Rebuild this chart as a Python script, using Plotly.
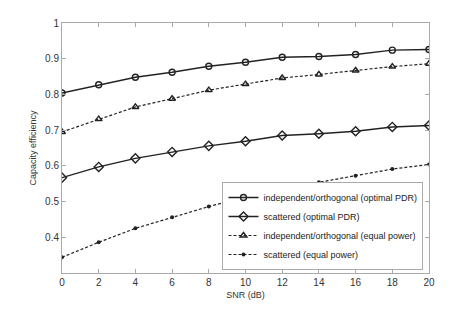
import plotly.graph_objects as go

snr = [0, 2, 4, 6, 8, 10, 12, 14, 16, 18, 20]
indep_opt = [0.804, 0.827, 0.848, 0.862, 0.879, 0.890, 0.904, 0.906, 0.912, 0.924, 0.926]
scat_opt = [0.567, 0.597, 0.621, 0.639, 0.656, 0.669, 0.685, 0.690, 0.697, 0.709, 0.713]
indep_eq = [0.695, 0.731, 0.765, 0.788, 0.812, 0.829, 0.846, 0.856, 0.867, 0.878, 0.886]
scat_eq = [0.344, 0.386, 0.425, 0.456, 0.486, 0.513, 0.537, 0.554, 0.572, 0.591, 0.604]
names = ["independent/orthogonal (optimal PDR)", "scattered (optimal PDR)",
         "independent/orthogonal (equal power)", "scattered (equal power)"]
xticks = [0, 2, 4, 6, 8, 10, 12, 14, 16, 18, 20]
yticks = [0.4, 0.5, 0.6, 0.7, 0.8, 0.9, 1.0]
yticktext = ["0.4", "0.5", "0.6", "0.7", "0.8", "0.9", "1"]

col = "#222222"
font = "Liberation Sans, Arial"
fig = go.Figure()
fig.add_trace(go.Scatter(x=snr, y=indep_opt, name=names[0], mode="lines+markers",
                         line=dict(color=col, width=1.4),
                         marker=dict(symbol="circle-open", size=6, color=col, line=dict(width=1.4))))
fig.add_trace(go.Scatter(x=snr, y=scat_opt, name=names[1], mode="lines+markers",
                         line=dict(color=col, width=1.4),
                         marker=dict(symbol="diamond-open", size=7, color=col, line=dict(width=1.4))))
fig.add_trace(go.Scatter(x=snr, y=indep_eq, name=names[2], mode="lines+markers",
                         line=dict(color=col, width=1.2, dash="3px,2px"),
                         marker=dict(symbol="triangle-up-open", size=6, color=col, line=dict(width=1.4))))
fig.add_trace(go.Scatter(x=snr, y=scat_eq, name=names[3], mode="lines+markers",
                         line=dict(color=col, width=1.2, dash="3px,2px"),
                         marker=dict(symbol="circle", size=4, color=col)))

axis_common = dict(showgrid=False, zeroline=False, showline=True, linecolor="#aaaaaa",
                   linewidth=1, mirror="ticks", ticks="inside", ticklen=4, tickcolor="#aaaaaa",
                   tickfont=dict(family=font, size=10, color="#333333"))
fig.update_xaxes(range=[0, 20], tickvals=xticks,
                 title=dict(text="SNR (dB)", font=dict(family=font, size=9, color="#333333"), standoff=4),
                 **axis_common)
fig.update_yaxes(range=[0.3, 1.0], tickvals=yticks, ticktext=yticktext,
                 title=dict(text="Capacity efficiency", font=dict(family=font, size=9, color="#333333"), standoff=6),
                 **axis_common)
fig.update_layout(width=474, height=310, margin=dict(l=62, r=45, t=23, b=35),
                  plot_bgcolor="white", paper_bgcolor="white",
                  legend=dict(x=0.985, y=0.012, xanchor="right", yanchor="bottom",
                              bordercolor="#aaaaaa", borderwidth=1, bgcolor="white",
                              font=dict(family=font, size=9, color="#222222"),
                              tracegroupgap=0, itemwidth=30),
                  showlegend=True)
fig.write_html("out.html")
